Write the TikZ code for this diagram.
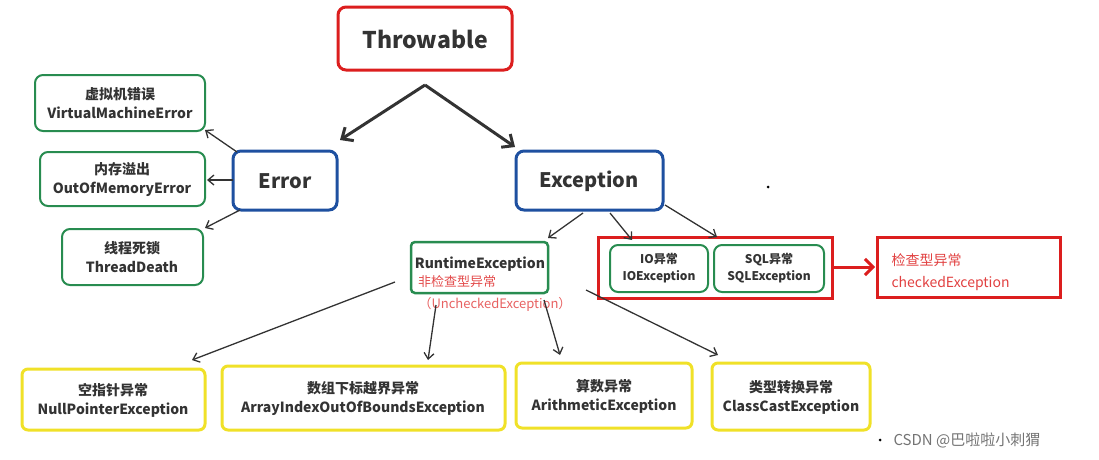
\documentclass[tikz,border=0pt]{standalone}
\usepackage{fontspec}
\setmainfont{Noto Sans CJK SC}
\usetikzlibrary{arrows.meta}
\definecolor{boxred}{RGB}{220,30,30}
\definecolor{boxblue}{RGB}{30,80,160}
\definecolor{boxgreen}{RGB}{40,140,80}
\definecolor{boxyellow}{RGB}{240,225,40}
\tikzset{
	% ---- boxes
	redbox/.style={draw=boxred, line width=3pt, rounded corners=8pt},
	bluebox/.style={draw=boxblue, line width=3pt, rounded corners=8pt},
	greenbox/.style={draw=boxgreen, line width=2pt, rounded corners=8pt},
	yellowbox/.style={draw=boxyellow, line width=3pt, rounded corners=6pt},
	label/.style={font=\bfseries\fontsize{14}{19}\selectfont, align=center, text=black!80},
	% ---- arrows
	bigarrow/.style={-{Straight Barb[length=9pt,width=16pt]}, line width=3pt, black!80},
	arrow/.style={-{Straight Barb[length=6pt,width=10pt]}, line width=1.3pt, black!80},
}
\begin{document}
\begin{tikzpicture}[x=1pt,y=-1pt]
\useasboundingbox (0,0) rectangle (1099,459);

% boxes %{{{2

	\draw[redbox] (338,7) rectangle (512,70);
	\node[font=\bfseries\fontsize{23}{26}\selectfont, text=black!80] (throwable) at (425,39) {Throwable};
	\coordinate (tb) at (425,85);

	\draw[bluebox] (233,151) rectangle (337,210);
	\node[font=\bfseries\fontsize{20}{22}\selectfont, text=black!80] (error) at (285,181) {Error};
	\draw[bluebox] (516,151) rectangle (663,210);
	\node[font=\bfseries\fontsize{20}{22}\selectfont, text=black!80] (exception) at (589,181) {Exception};

	\draw[greenbox] (35,75) rectangle (205,131);
	\node[label] (vme) at (120,103) {虚拟机错误\\VirtualMachineError};
	\draw[greenbox] (40,152) rectangle (205,206);
	\node[label] (oom) at (122,179) {内存溢出\\OutOfMemoryError};
	\draw[greenbox] (62,229) rectangle (203,285);
	\node[label] (death) at (132,257) {线程死锁\\ThreadDeath};

	\draw[boxgreen, line width=2.5pt, rounded corners=4pt] (411,242) rectangle (548,293);
	\node[label] (runtime) at (480,264) {RuntimeException};
	\node[text=boxred!80, font=\fontsize{13}{15}\selectfont] (unchecked) at (457,282) {非检查型异常};
	\node[text=boxred!70, font=\fontsize{13}{15}\selectfont] (uncheckedname) at (495,304) {（UncheckedException）};

	\draw[boxred, line width=3pt] (598,237) rectangle (832,298);
	\draw[greenbox] (610,245) rectangle (708,292);
	\node[label, font=\bfseries\fontsize{12}{17}\selectfont] (io) at (659,268) {IO异常\\IOException};
	\draw[greenbox] (714,245) rectangle (824,292);
	\node[label, font=\bfseries\fontsize{12}{17}\selectfont] (sql) at (769,268) {SQL异常\\SQLException};

	\draw[boxred, line width=3pt] (877,237) rectangle (1060,297);
	\node[text=boxred!85, font=\fontsize{14}{22}\selectfont, align=left, anchor=west] (checked) at (888,272) {检查型异常\\checkedException};

	\draw[yellowbox] (22,369) rectangle (205,430);
	\node[label] (npe) at (113,400) {空指针异常\\NullPointerException};
	\draw[yellowbox] (222,366) rectangle (505,430);
	\node[label] (aioobe) at (363,398) {数组下标越界异常\\ArrayIndexOutOfBoundsException};
	\draw[yellowbox] (516,363) rectangle (692,428);
	\node[label] (arith) at (604,396) {算数异常\\ArithmeticException};
	\draw[yellowbox] (712,363) rectangle (870,430);
	\node[label] (cce) at (791,397) {类型转换异常\\ClassCastException};

% connectors %{{{2

	\draw[bigarrow] (tb) -- (340,140);
	\draw[bigarrow] (tb) -- (515,147);

	\draw[arrow] (237,152) -- (205,130);
	\draw[arrow] (233,180) -- (207,180);
	\draw[arrow] (240,210) -- (205,228);

	\draw[arrow] (583,213) -- (548,238);
	\draw[arrow] (610,213) -- (632,240);
	\draw[arrow] (665,205) -- (717,237);

	\draw[boxred, line width=3pt, -{Straight Barb[length=8pt,width=16pt]}] (832,267) -- (875,267);

	\draw[arrow] (395,282) -- (192,360);
	\draw[arrow] (436,305) -- (428,360);
	\draw[arrow] (544,300) -- (560,355);
	\draw[arrow] (586,290) -- (718,355);

% marks %{{{2

	\fill (768,187) circle (1.5pt);
	\fill (880,440) circle (1.5pt);
	\node[text=black!55, font=\fontsize{15}{17}\selectfont, anchor=west] (csdn) at (890,440) {CSDN @巴啦啦小刺猬};

\end{tikzpicture}
\end{document}
